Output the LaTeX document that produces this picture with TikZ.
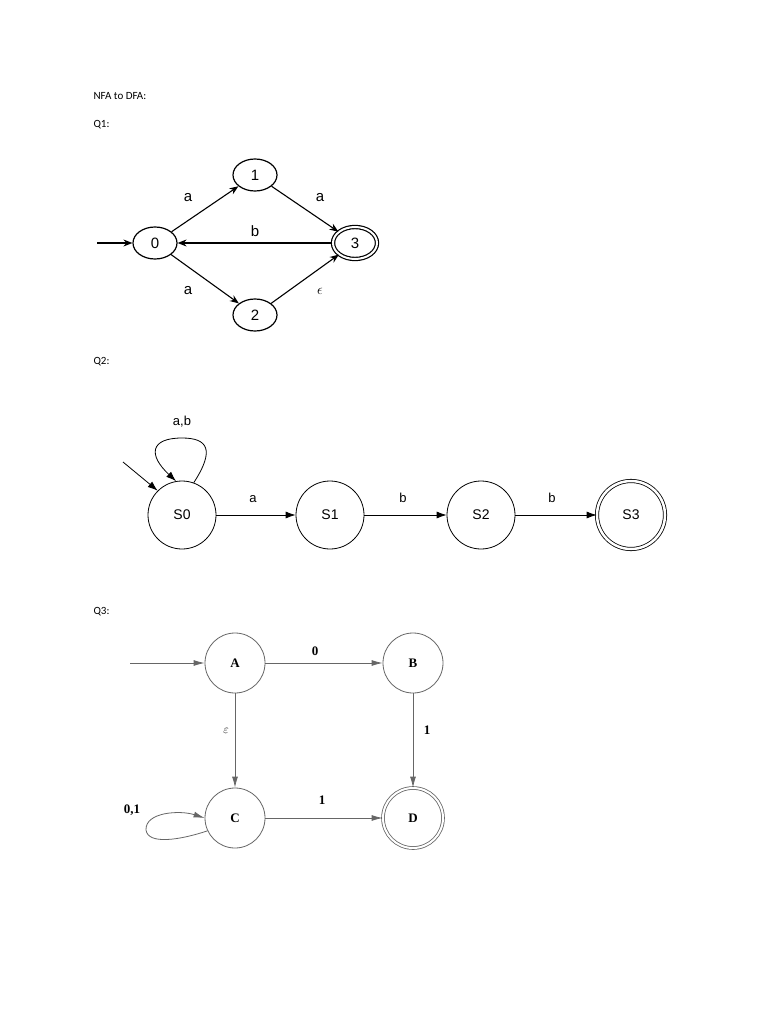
\documentclass[tikz,border=0pt]{standalone}
\usepackage{fontspec}
\setmainfont{Carlito}
\newfontfamily\arialf{Liberation Sans}
\newfontfamily\timesf{Liberation Serif}
\usetikzlibrary{arrows.meta,shapes.geometric}
\begin{document}
\begin{tikzpicture}[x=1pt,y=-1pt,
  qone/.style={draw,ellipse,minimum width=44pt,minimum height=32pt,inner sep=0pt,line width=1.2pt,font=\arialf\fontsize{15}{15}\selectfont},
  qtwo/.style={draw,circle,minimum size=68pt,inner sep=0pt,line width=0.8pt,font=\arialf\fontsize{14}{14}\selectfont},
  qthree/.style={draw=gray!80!black,circle,minimum size=60pt,inner sep=0pt,line width=0.8pt,font=\timesf\bfseries\fontsize{13}{13}\selectfont},
  ea/.style={-{Stealth[length=9pt,width=7pt]},line width=1.1pt},
  eb/.style={-{Latex[length=10pt,width=7pt]},line width=0.8pt},
  ec/.style={-{Latex[length=11pt,width=6pt]},line width=0.8pt,draw=gray!80!black},
  la/.style={font=\arialf\fontsize{15}{15}\selectfont},
  lb/.style={font=\arialf\fontsize{13}{13}\selectfont},
  lc/.style={font=\timesf\bfseries\fontsize{13}{13}\selectfont},
  hd/.style={anchor=west,font=\fontsize{11}{13}\selectfont}]
\useasboundingbox[fill=white] (0,0) rectangle (768,1024);
\node[hd] (t0) at (90,96) {NFA to DFA:};
\node[hd] (t1) at (90,125) {Q1:};
\node[hd] (t2) at (90,362) {Q2:};
\node[hd] (t3) at (90,612) {Q3:};
% Q1
\node[qone] (n0) at (155,243) {0};
\node[qone] (n1) at (255,175) {1};
\node[qone] (n2) at (255,315) {2};
\node[qone,double,double distance=2pt] (n3) at (355,243) {3};
\coordinate (s1) at (97,243);
\draw[ea] (s1) -- (n0);
\draw[ea] (n0) -- (n1);
\draw[ea] (n1) -- (n3);
\draw[ea] (n3) -- (n0);
\draw[ea] (n0) -- (n2);
\draw[ea] (n2) -- (n3);
\node[la] (l1) at (188,198) {a};
\node[la] (l2) at (320,198) {a};
\node[la] (l3) at (255,231) {b};
\node[la] (l4) at (188,291) {a};
\node[la] (l5) at (320,291) {$\epsilon$};
% Q2
\node[qtwo] (s0) at (182,515) {S0};
\node[qtwo] (sa) at (330,515) {S1};
\node[qtwo] (sb) at (481,515) {S2};
\node[qtwo,double,double distance=2.5pt] (sc) at (631,515) {S3};
\coordinate (st2) at (123,462);
\draw[eb] (st2) -- (s0.135);
\draw[eb] (s0.70) .. controls (215,450) and (208,438) .. (182,438) .. controls (150,438) and (148,455) .. (s0.100);
\draw[eb] (s0) -- (sa);
\draw[eb] (sa) -- (sb);
\draw[eb] (sb) -- (sc);
\node[lb] (m0) at (182,422) {a,b};
\node[lb] (m1) at (253,499) {a};
\node[lb] (m2) at (403,498) {b};
\node[lb] (m3) at (552,498) {b};
% Q3
\node[qthree] (A) at (235,663) {A};
\node[qthree] (B) at (413,663) {B};
\node[qthree] (C) at (235,818) {C};
\node[qthree,double,double distance=2pt] (D) at (413,818) {D};
\coordinate (st3) at (130,663);
\draw[ec] (st3) -- (A);
\draw[ec] (A) -- (B);
\draw[ec] (A) -- (C);
\draw[ec] (B) -- (D);
\draw[ec] (C) -- (D);
\draw[ec] (C.205) .. controls (180,840) and (148,845) .. (146,830) .. controls (145,812) and (180,810) .. (C.180);
\node[lc] (k0) at (315,651) {0};
\node[lc] (k1) at (226,731) {$\varepsilon$};
\node[lc] (k2) at (427,730) {1};
\node[lc] (k3) at (322,800) {1};
\node[lc] (k4) at (132,810) {0,1};
\end{tikzpicture}
\end{document}
